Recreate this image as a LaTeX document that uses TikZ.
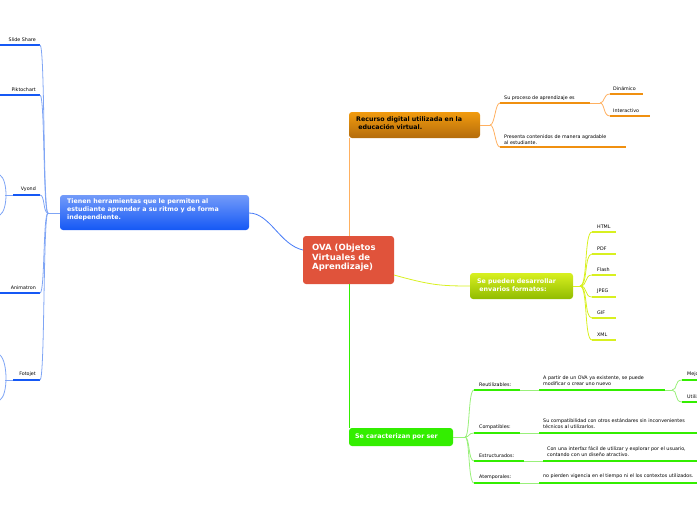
\documentclass[tikz,border=0pt]{standalone}
\usepackage{fontspec}
\setmainfont{DejaVu Sans}
\begin{document}
\begin{tikzpicture}[x=1pt,y=-1pt,
  main/.style={rounded corners=3pt,text=white,font=\bfseries\fontsize{8.5}{9.5}\selectfont,align=left,inner sep=0pt},
  sub/.style={rounded corners=3pt,font=\bfseries\fontsize{6.3}{7.5}\selectfont,align=left,inner sep=0pt},
  lbl/.style={font=\fontsize{4.8}{6}\selectfont,align=left,inner sep=0pt,anchor=south west},
  ul/.style={line width=1.8pt},
  cn/.style={line width=0.8pt}]
\useasboundingbox (0,0) rectangle (697,520);
\definecolor{cred}{HTML}{E0533B}\definecolor{corg}{HTML}{F09010}\definecolor{lorg}{HTML}{FFB060}
\definecolor{cyel}{HTML}{AADD00}\definecolor{lyel}{HTML}{D8F020}
\definecolor{cgrn}{HTML}{33EE00}\definecolor{lgrn}{HTML}{99F07A}
\definecolor{cblu}{HTML}{1558F5}\definecolor{lblu}{HTML}{7FA5F5}
% central
\fill[cred,rounded corners=3pt] (303,236) rectangle (394,284);
\node[main,anchor=north west] (ova) at (312,244) {OVA (Objetos\\Virtuales de\\Aprendizaje)};
\coordinate (ovaT) at (349,236);\coordinate (ovaB) at (349,284);
\coordinate (ovaR) at (394,275);\coordinate (ovaL) at (303,250);
% orange
\shade[top color=corg!90!yellow,bottom color=corg!75!black,rounded corners=3pt] (349,112) rectangle (480,138);
\node[sub,anchor=north west] (rec) at (356,117) {Recurso digital utilizada en la\\\ educación virtual.};
\coordinate (recB) at (349,138);\coordinate (recR) at (480,125);
\draw[lorg,cn] (ovaT)--(recB);
\coordinate (h1) at (490,125);
\draw[lorg,cn] (recR)--(h1);
\node[lbl] (su) at (504,101) {Su proceso de aprendizaje es};
\draw[corg,ul] (500,103)--(590,103);
\draw[lorg,cn] (h1) .. controls (495,125) and (495,103) .. (500,103);
\node[lbl] (pre) at (504,145) {Presenta contenidos de manera agradable\\al estudiante.};
\draw[corg,ul] (500,147)--(626,147);
\draw[lorg,cn] (h1) .. controls (495,125) and (495,147) .. (500,147);
\draw[lorg,cn] (590,103)--(600,103);
\node[lbl] (din) at (613,91) {Dinámico};
\draw[corg,ul] (610,94)--(643,94);
\node[lbl] (int) at (613,113) {Interactivo};
\draw[corg,ul] (610,116)--(650,116);
\draw[lorg,cn] (600,103) .. controls (605,103) and (603,94) .. (610,94);
\draw[lorg,cn] (600,103) .. controls (605,103) and (603,116) .. (610,116);
% yellow
\shade[top color=lyel,bottom color=cyel!85!black,rounded corners=3pt] (470,273) rectangle (573,299);
\node[sub,text=white,anchor=north west] (fmt) at (477,279) {Se pueden desarrollar\\\ envarios formatos:};
\draw[lyel,cn] (ovaR) .. controls (430,285) and (440,286) .. (470,286);
\coordinate (h2) at (580,286);
\draw[lyel,cn] (573,286)--(h2);
\foreach \t/\y in {HTML/232,PDF/254,Flash/275,JPEG/297,GIF/318,XML/340}{
  \node[lbl] at (597,\y-3) {\t};
  \draw[lyel,ul] (592,\y)--(616,\y);
  \draw[lyel,cn] (h2) .. controls (588,286) and (584,\y) .. (592,\y);
}
% green
\fill[cgrn,rounded corners=3pt] (349,428) rectangle (453,446);
\node[sub,text=white,anchor=west] (car) at (355,437) {Se caracterizan por ser};
\draw[cgrn,cn] (ovaB)--(349,428);
\coordinate (h3) at (465,437);
\draw[lgrn,cn] (453,437)--(h3);
\foreach \t/\y/\e in {Reutilizables:/390/520,Compatibles:/433/520,Estructurados:/461/524,Atemporales:/483/520}{
  \node[lbl] at (479,\y-3) {\t};
  \draw[cgrn,ul] (474,\y)--(\e,\y);
  \draw[lgrn,cn] (h3) .. controls (470,437) and (468,\y) .. (474,\y);
  \draw[lgrn,cn] (\e,\y)--(\e+19,\y);
}
\node[lbl] at (543,386) {A partir de un OVA ya existente, se puede\\modificar o crear uno nuevo};
\draw[cgrn,ul] (539,390)--(665,390);
\node[lbl] at (543,429) {Su compatibilidad con otros estándares sin inconvenientes\\técnicos al utilizarlos.};
\draw[cgrn,ul] (539,433)--(697,433);
\node[lbl] at (547,457) {Con una interfaz fácil de utilizar y explorar por el usuario,\\contando con un diseño atractivo.};
\draw[cgrn,ul] (543,461)--(697,461);
\node[lbl] at (543,479) {no pierden vigencia en el tiempo ni el los contextos utilizados.};
\draw[cgrn,ul] (539,483)--(697,483);
\draw[lgrn,cn] (665,390)--(672,390);
\draw[lgrn,cn] (672,390) .. controls (678,390) and (674,380) .. (682,380);
\draw[lgrn,cn] (672,390) .. controls (678,390) and (674,402) .. (682,402);
\draw[cgrn,ul] (682,380)--(697,380);\draw[cgrn,ul] (682,402)--(697,402);
\node[lbl] at (687,377) {Mejorar};
\node[lbl] at (687,399) {Utilizar};
% blue
\shade[top color=cblu!60!white,bottom color=cblu,rounded corners=3pt] (60,195) rectangle (249,230);
\node[main,font=\bfseries\fontsize{6.3}{7.8}\selectfont,anchor=north west] (her) at (67,199) {Tienen herramientas que le permiten al\\estudiante aprender a su ritmo y de forma\\independiente.};
\draw[cblu!80,cn] (ovaL) .. controls (280,245) and (270,213) .. (249,213);
\coordinate (h4) at (48,213);
\draw[lblu,cn] (60,213)--(h4);
\foreach \t/\y/\s in {Slide Share/45/0,Piktochart/95/0,Vyond/195/13,Animatron/293/0,Fotojet/380/13}{
  \node[lbl,anchor=south east] at (36,\y-3) {\t};
  \draw[cblu,ul] (\s,\y)--(40,\y);
  \draw[lblu,cn] (h4) .. controls (43,213) and (45,\y) .. (40,\y);
}
\draw[lblu,cn] (13,195)--(5,195);
\draw[lblu,cn] (0,175) .. controls (8,180) and (8,210) .. (0,215);
\draw[lblu,cn] (13,380)--(5,380);
\draw[lblu,cn] (0,355) .. controls (8,362) and (8,395) .. (0,400);
\end{tikzpicture}
\end{document}
